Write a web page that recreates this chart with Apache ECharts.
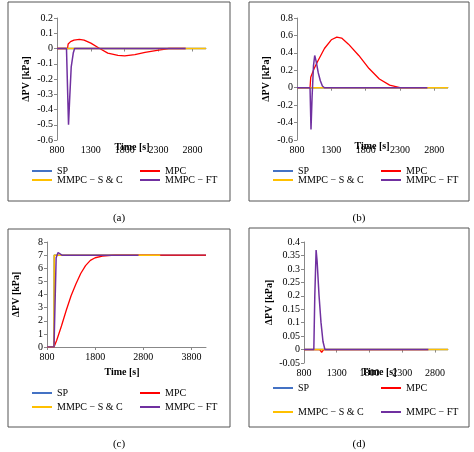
<!DOCTYPE html>
<html>
<head>
<meta charset="utf-8">
<script src="https://cdn.jsdelivr.net/npm/echarts@6/dist/echarts.min.js"></script>
<style>
  html, body { margin: 0; padding: 0; background: #fff; }
  #chart { width: 474px; height: 452px; }
</style>
</head>
<body>
<div id="chart"></div>
<script>
const seriesNames = ["SP", "MPC", "MMPC − S & C", "MMPC − FT"];
const seriesColors = ["#4472c4", "#ff0000", "#ffc000", "#7030a0"];

// panel (a)
const aSP = [[800, 0], [3000, 0]];
const aMPC = [[800, 0], [955, 0], [965, 0.03], [1000, 0.045], [1050, 0.055], [1130, 0.06], [1200, 0.055], [1300, 0.035], [1430, 0], [1550, -0.03], [1700, -0.045], [1800, -0.048], [1950, -0.04], [2100, -0.025], [2300, -0.01], [2450, 0], [2700, 0]];
const aSC = [[800, 0], [3000, 0]];
const aFT = [[800, 0], [940, 0], [955, -0.25], [970, -0.5], [985, -0.35], [1010, -0.12], [1040, -0.03], [1060, 0], [2700, 0]];

// panel (b)
const bSP = [[800, 0], [3000, 0]];
const bMPC = [[800, 0], [990, 0], [1000, 0.12], [1050, 0.22], [1100, 0.3], [1200, 0.45], [1300, 0.55], [1380, 0.58], [1450, 0.57], [1550, 0.5], [1700, 0.37], [1850, 0.22], [2000, 0.1], [2150, 0.03], [2300, 0], [2700, 0]];
const bSC = [[800, 0], [3000, 0]];
const bFT = [[800, 0], [990, 0], [1004, -0.48], [1020, -0.1], [1040, 0.25], [1058, 0.37], [1080, 0.3], [1110, 0.17], [1140, 0.08], [1170, 0.02], [1200, 0], [2700, 0]];

// panel (c)
const cSP = [[800, 0], [945, 0], [950, 7], [4100, 7]];
const cMPC = [[800, 0], [945, 0], [1000, 0.5], [1100, 1.6], [1200, 2.8], [1300, 3.9], [1400, 4.8], [1500, 5.6], [1600, 6.2], [1700, 6.6], [1800, 6.8], [1950, 6.93], [2200, 7], [4100, 7]];
const cSC = [[800, 0], [945, 0], [950, 7], [3150, 7]];
const cFT = [[800, 0], [945, 0], [990, 6.8], [1030, 7.2], [1070, 7.05], [1110, 7], [2700, 7]];

// panel (d)
const dSP = [[800, 0], [3000, 0]];
const dMPC = [[800, 0], [1040, 0], [1070, -0.01], [1100, 0], [2700, 0]];
const dSC = [[800, 0], [3000, 0]];
const dFT = [[800, 0], [950, 0], [965, 0.2], [985, 0.37], [1000, 0.33], [1030, 0.2], [1060, 0.1], [1090, 0.03], [1120, 0], [2700, 0]];

const panelData = [[aSP, aMPC, aSC, aFT], [bSP, bMPC, bSC, bFT], [cSP, cMPC, cSC, cFT], [dSP, dMPC, dSC, dFT]];
const captions = ["(a)", "(b)", "(c)", "(d)"];

const yMins = [-0.6, -0.6, 0, -0.05];
const yMaxs = [0.2, 0.8, 8, 0.4];
const yIntervals = [0.1, 0.2, 1, 0.05];
const xMaxs = [3000, 3000, 4100, 3000];
const xIntervals = [500, 500, 1000, 500];

// layout (pixels)
const boxes = [[8, 2, 222, 199], [249, 2, 220, 199], [8, 229, 222, 198], [249, 228, 220, 199]];
const grids = [
  { left: 57, top: 18, width: 149, height: 122 },
  { left: 297, top: 18, width: 151, height: 122 },
  { left: 47, top: 242, width: 159, height: 105 },
  { left: 304, top: 242, width: 144, height: 121 }
];
const timeY = [147, 146, 372, 372];
const legendRows = [[173, 182], [173, 182], [395, 409], [390, 414]];
const captionY = [218, 218, 444, 444];

const font = "Liberation Serif";
const chart = echarts.init(document.getElementById("chart"));

const option = {
  animation: false,
  textStyle: { fontFamily: font, color: "#000" },
  grid: [], xAxis: [], yAxis: [], series: [], legend: [], graphic: []
};

grids.forEach((g, i) => {
  option.grid.push(g);
  option.xAxis.push({
    type: "value", gridIndex: i, min: 800, max: xMaxs[i], interval: xIntervals[i],
    axisLine: { onZero: true, onZeroAxisIndex: i, lineStyle: { color: "#888" } },
    axisTick: { show: true, length: 3, inside: false, lineStyle: { color: "#888" } },
    axisLabel: { fontFamily: font, fontSize: 10, color: "#000", showMaxLabel: false, margin: 5,
      formatter: (v) => String(v) },
    splitLine: { show: false }
  });
  option.yAxis.push({
    type: "value", gridIndex: i, min: yMins[i], max: yMaxs[i], interval: yIntervals[i],
    name: "ΔPV [kPa]", nameLocation: "middle", nameGap: i === 3 ? 30 : 26,
    nameTextStyle: { fontFamily: font, fontSize: 10, fontWeight: "bold", color: "#000" },
    axisLine: { show: true, onZero: false, lineStyle: { color: "#888" } },
    axisTick: { show: true, length: 3, lineStyle: { color: "#888" } },
    axisLabel: { fontFamily: font, fontSize: 10, color: "#000", margin: 4 },
    splitLine: { show: false }
  });
  panelData[i].forEach((d, k) => {
    option.series.push({
      name: seriesNames[k], type: "line", xAxisIndex: i, yAxisIndex: i,
      data: d, showSymbol: false, z: 2 + k,
      lineStyle: { color: seriesColors[k], width: k === 1 ? 1.3 : 1.5 },
      itemStyle: { color: seriesColors[k] }
    });
  });
  const bx = boxes[i];
  option.graphic.push({
    type: "rect", shape: { x: bx[0], y: bx[1], width: bx[2], height: bx[3] },
    style: { fill: "none", stroke: "#555", lineWidth: 1 }, silent: true
  });
  option.graphic.push({
    type: "text", x: g.left + 75, y: timeY[i],
    style: { text: "Time [s]", font: "bold 10px " + font, fill: "#000", align: "center", verticalAlign: "middle" }
  });
  option.graphic.push({
    type: "text", x: bx[0] + bx[2] / 2, y: captionY[i],
    style: { text: captions[i], font: "11px " + font, fill: "#000", align: "center", verticalAlign: "middle" }
  });
  // legend: 2 x 2
  seriesNames.forEach((n, k) => {
    option.legend.push({
      data: [n], left: bx[0] + 24 + (k % 2) * 108, top: legendRows[i][Math.floor(k / 2)] - 7,
      icon: "rect", itemWidth: 20, itemHeight: 2, itemGap: 0, padding: 0,
      textStyle: { fontFamily: font, fontSize: 10, color: "#000" },
      selectedMode: false
    });
  });
});

chart.setOption(option);
</script>
</body>
</html>
